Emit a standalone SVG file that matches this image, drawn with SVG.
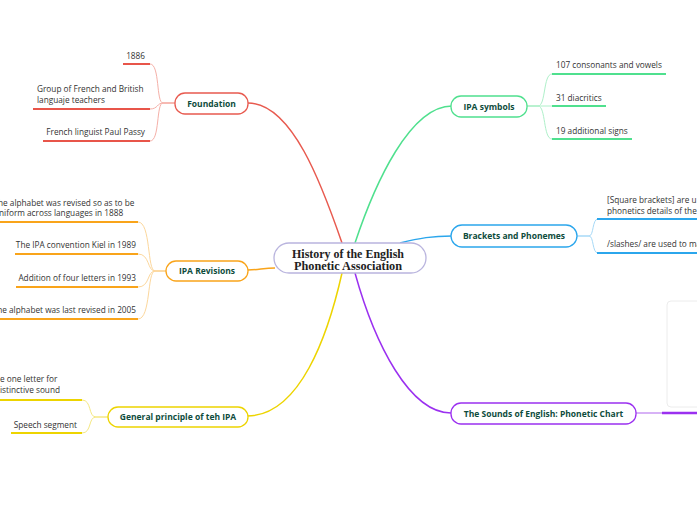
<svg xmlns="http://www.w3.org/2000/svg" width="697" height="520" viewBox="0 0 697 520">
<style>
.leaf{font-family:"Open Sans","Noto Sans",sans-serif;font-size:8.25px;fill:#333}
.nt{font-family:"Open Sans","Noto Sans",sans-serif;font-size:8.5px;font-weight:bold;fill:#0e4c3c;text-anchor:middle}
.ct{font-family:"Liberation Serif",serif;font-size:11.5px;font-weight:bold;fill:#222;text-anchor:middle}
.c{fill:none;stroke-width:1.5}
.u{fill:none;stroke-width:1.8}
.f{fill:none;stroke-width:1}
.nb{fill:#fff;stroke-width:1.3}
</style>
<rect width="697" height="520" fill="#fff"/>
<g id="connectors">
<path class="c" stroke="#e85a4f" d="M248,103 C292,103 322,185 342,243"/>
<path class="c" stroke="#4fe08e" d="M355,243 C375,183 410,106 452,106"/>
<path class="c" stroke="#2ba6ec" d="M400,243 C420,238 432,236 452,236"/>
<path class="c" stroke="#f9a41a" stroke-width="2" d="M248,270 C258,270 264,268 275,268"/>
<path class="c" stroke="#edd400" d="M342,273 C328,335 300,416 247,416"/>
<path class="c" stroke="#9b30f0" d="M355,273 C375,345 410,413 451,413"/>
<path class="f" stroke="#f5b0a8" d="M175,103 L163,103 C156,103 160,64 150,64"/>
<path class="f" stroke="#f5b0a8" d="M175,103 L163,103 C157,103 158,109 150,109"/>
<path class="f" stroke="#f5b0a8" d="M175,103 L163,103 C156,103 160,141 150,141"/>
<path class="u" stroke="#e8554a" d="M123,64 H150 M33,109 H150 M43,141 H150"/>
<path class="f" stroke="#fcd79c" d="M166,271 L155,271 C147,271 151,222 138,222"/>
<path class="f" stroke="#fcd79c" d="M166,271 L155,271 C147,271 150,254 138,254"/>
<path class="f" stroke="#fcd79c" d="M166,271 L155,271 C147,271 150,287 138,287"/>
<path class="f" stroke="#fcd79c" d="M166,271 L155,271 C147,271 151,319 138,319"/>
<path class="u" stroke="#f9a41a" d="M0,222 H138 M15,254 H138 M16,287 H138 M0,319 H138"/>
<path class="f" stroke="#f5e883" d="M108,417 L96,417 C88,417 92,400 82,400"/>
<path class="f" stroke="#f5e883" d="M108,417 L96,417 C88,417 92,433 82,433"/>
<path class="u" stroke="#edd400" d="M0,400 H82 M11,433 H82"/>
<path class="f" stroke="#aef0c9" d="M527,106 L538,106 C546,106 543,74 552,74"/>
<path class="f" stroke="#aef0c9" d="M527,106 H552"/>
<path class="f" stroke="#aef0c9" d="M527,106 L538,106 C546,106 543,139 552,139"/>
<path class="u" stroke="#4fe08e" d="M552,74 H666 M552,106 H606 M552,139 H632"/>
<path class="f" stroke="#a6d9f7" d="M577,236 L589,236 C594,236 592,219 598,219"/>
<path class="f" stroke="#a6d9f7" d="M577,236 L589,236 C594,236 592,253 598,253"/>
<path class="u" stroke="#2ba6ec" d="M597,219 H697 M597,253 H697"/>
<path fill="none" stroke="#d7b2f6" stroke-width="2" d="M636,413 H662"/>
<path fill="none" stroke="#9b30f0" stroke-width="2.5" d="M662,413 H697"/>
</g>
<g id="chart-box">
<rect x="667" y="301" width="40" height="106" rx="4" fill="#fff" stroke="#ececec" stroke-width="1"/>
</g>
<g id="central">
<rect class="nb" x="274" y="243" width="152" height="30" rx="15" stroke="#b9b4de" stroke-width="2"/>
<text class="ct" x="348" y="258" textLength="112" lengthAdjust="spacingAndGlyphs">History of the English</text>
<text class="ct" x="348" y="269.5" textLength="108" lengthAdjust="spacingAndGlyphs">Phonetic Association</text>
</g>
<g id="foundation">
<rect class="nb" x="175" y="93" width="73" height="21" rx="10" stroke="#e85a4f"/>
<text class="nt" x="211.5" y="106.5">Foundation</text>
</g>
<g id="foundation-leaves">
<text class="leaf" x="145" y="59" text-anchor="end">1886</text>
<text class="leaf" x="37" y="92">Group of French and British</text>
<text class="leaf" x="37" y="103">languaje teachers</text>
<text class="leaf" x="145" y="135" text-anchor="end">French linguist Paul Passy</text>
</g>
<g id="ipa-revisions">
<rect class="nb" x="166" y="261" width="82" height="20" rx="10" stroke="#f9a41a"/>
<text class="nt" x="207" y="274">IPA Revisions</text>
</g>
<g id="revision-leaves">
<text class="leaf" x="-2" y="206">he alphabet was revised so as to be</text>
<text class="leaf" x="-1" y="216">niform across languages in 1888</text>
<text class="leaf" x="136" y="248" text-anchor="end">The IPA convention Kiel in 1989</text>
<text class="leaf" x="136" y="281" text-anchor="end">Addition of four letters in 1993</text>
<text class="leaf" x="136" y="313" text-anchor="end">he alphabet was last revised in 2005</text>
</g>
<g id="general-principle">
<rect class="nb" x="108" y="407" width="140" height="20" rx="10" stroke="#edd400"/>
<text class="nt" x="178" y="420">General principle of teh IPA</text>
</g>
<g id="principle-leaves">
<text class="leaf" x="0" y="382">e  one letter for</text>
<text class="leaf" x="0" y="393">istinctive sound</text>
<text class="leaf" x="77" y="428" text-anchor="end">Speech segment</text>
</g>
<g id="ipa-symbols">
<rect class="nb" x="451" y="96" width="76" height="21" rx="10" stroke="#4fe08e"/>
<text class="nt" x="489" y="109.5">IPA symbols</text>
</g>
<g id="symbol-leaves">
<text class="leaf" x="556" y="68">107 consonants and vowels</text>
<text class="leaf" x="556" y="101">31 diacritics</text>
<text class="leaf" x="556" y="134">19 additional signs</text>
</g>
<g id="brackets">
<rect class="nb" x="451" y="225" width="126" height="22" rx="11" stroke="#2ba6ec"/>
<text class="nt" x="514" y="239">Brackets and Phonemes</text>
</g>
<g id="bracket-leaves">
<text class="leaf" x="607" y="203">[Square brackets] are u</text>
<text class="leaf" x="607" y="214">phonetics details of the</text>
<text class="leaf" x="607" y="247">/slashes/ are used to ma</text>
</g>
<g id="sounds">
<rect class="nb" x="451" y="403" width="185" height="21" rx="10" stroke="#9b30f0"/>
<text class="nt" x="543.5" y="416.5">The Sounds of English: Phonetic Chart</text>
</g>
</svg>
